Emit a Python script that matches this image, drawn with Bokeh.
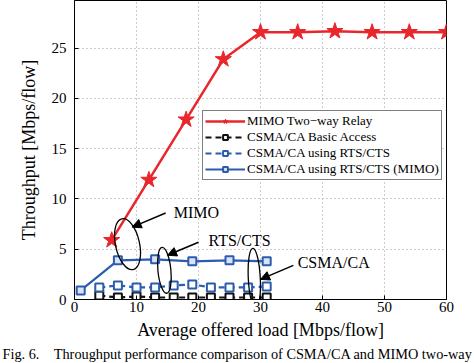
from bokeh.plotting import figure
from bokeh.models import (Range1d, FixedTicker, Legend, LegendItem,
                          Arrow, NormalHead, Title)
from bokeh.embed import file_html
from bokeh.resources import INLINE
from bokeh.core.properties import value

# ---- data ----
mimo_x = [6, 12, 18, 24, 30, 36, 42, 48, 54, 60]
mimo_y = [5.9, 11.9, 17.9, 23.9, 26.6, 26.6, 26.7, 26.6, 26.6, 26.6]

rts_mimo_x = [1, 7, 13, 19, 25, 31]
rts_mimo_y = [0.9, 3.9, 4.0, 3.8, 3.9, 3.8]

rts_x = [4, 7, 10, 13, 16, 19, 22, 25, 28, 31]
rts_y = [1.2, 1.4, 1.2, 1.2, 1.4, 1.5, 1.2, 1.2, 1.2, 1.3]

basic_x = [4, 7, 10, 13, 16, 19, 22, 25, 28, 31]
basic_y = [0.4, 0.2, 0.3, 0.2, 0.2, 0.2, 0.2, 0.2, 0.2, 0.2]

x_ticks = [0, 10, 20, 30, 40, 50, 60]
y_ticks = [0, 5, 10, 15, 20, 25, 30]

legend_labels = ["MIMO Two\u2212way Relay", "CSMA/CA Basic Access",
                 "CSMA/CA using RTS/CTS", "CSMA/CA using RTS/CTS (MIMO)"]

# annotation texts and anchors (data units)
ann_texts = ["MIMO", "RTS/CTS", "CSMA/CA"]
ann_text_x = [16.0, 21.6, 36.0]
ann_text_y = [8.7, 5.9, 3.7]
arrow_from = [(14.7, 8.6), (20.0, 5.7), (35.3, 3.4)]
arrow_to = [(9.3, 7.2), (15.0, 4.4), (30.0, 2.0)]
ell_x = [8.55, 14.5, 29.0]
ell_y = [5.5, 2.9, 2.1]
ell_w = [24, 13, 12]
ell_h = [52, 46, 60]
ell_a = [0.22, 0.1, 0.05]

caption = ("Fig. 6.\u00a0\u00a0\u00a0\u00a0Throughput performance comparison of "
           "CSMA/CA and MIMO two-way")

RED = "#e8262c"
BLUE = "#2b5cae"
BLACK = "#111111"
FONT = "Liberation Serif"

p = figure(width=474, height=363, output_backend="svg", toolbar_location=None,
           x_range=Range1d(0, 60), y_range=Range1d(0, 29.75),
           min_border_left=74, min_border_right=28, min_border_top=0,
           min_border_bottom=64)
p.outline_line_color = "black"
p.outline_line_width = 1
p.background_fill_color = "white"
p.border_fill_color = "white"

for ax in (p.xaxis[0], p.yaxis[0]):
    ax.major_tick_in = 4
    ax.major_tick_out = 0
    ax.minor_tick_line_color = None
    ax.axis_line_color = "black"
    ax.major_label_text_font = FONT
    ax.major_label_text_font_size = "15px"
    ax.major_label_text_color = "black"
    ax.axis_label_text_font = FONT
    ax.axis_label_text_font_style = "normal"
    ax.axis_label_text_font_size = "18px"
    ax.axis_label_text_color = "black"

p.xaxis[0].ticker = FixedTicker(ticks=x_ticks)
p.yaxis[0].ticker = FixedTicker(ticks=y_ticks)
p.xaxis[0].axis_label = "Average offered load [Mbps/flow]"
p.yaxis[0].axis_label = "Throughput [Mbps/flow]"
p.xaxis[0].major_label_standoff = 2
p.xaxis[0].axis_label_standoff = 5
p.yaxis[0].major_label_standoff = 8
p.yaxis[0].axis_label_standoff = 10

p.xgrid.ticker = FixedTicker(ticks=x_ticks)
p.ygrid.ticker = FixedTicker(ticks=y_ticks)
for g in (p.xgrid[0], p.ygrid[0]):
    g.grid_line_color = "#9a9a9a"
    g.grid_line_dash = "1 3"
    g.grid_line_width = 1

# series
r1l = p.line(mimo_x, mimo_y, line_color=RED, line_width=2.5)
r1m = p.scatter(mimo_x, mimo_y, marker="star", size=17, fill_color=RED, line_color=RED)

r2l = p.line(basic_x, basic_y, line_color=BLACK, line_width=2.2, line_dash="6 4")
r2m = p.scatter(basic_x, basic_y, marker="square", size=8, fill_color="white",
                line_color=BLACK, line_width=2)

r3l = p.line(rts_x, rts_y, line_color=BLUE, line_width=2.2, line_dash="6 4")
r3m = p.scatter(rts_x, rts_y, marker="square", size=8, fill_color="white",
                line_color=BLUE, line_width=2)

r4l = p.line(rts_mimo_x, rts_mimo_y, line_color=BLUE, line_width=2.2)
r4m = p.scatter(rts_mimo_x, rts_mimo_y, marker="square", size=8, fill_color="#d9e3f5",
                line_color=BLUE, line_width=2)

# annotations
p.ellipse(x=ell_x, y=ell_y, width=ell_w, height=ell_h, angle=ell_a,
          width_units="screen", height_units="screen",
          fill_color=None, line_color="black", line_width=1.3)
for (x0, y0), (x1, y1) in zip(arrow_from, arrow_to):
    p.add_layout(Arrow(x_start=x0, y_start=y0, x_end=x1, y_end=y1,
                       line_color="black", line_width=1.5,
                       end=NormalHead(size=9, fill_color="black", line_color="black")))
p.text(x=ann_text_x, y=ann_text_y, text=ann_texts, text_font=value(FONT),
       text_font_size="16px", text_baseline="middle", text_align="left",
       text_color="black")

legend = Legend(items=[
    LegendItem(label=legend_labels[0], renderers=[r1l, r1m]),
    LegendItem(label=legend_labels[1], renderers=[r2l, r2m]),
    LegendItem(label=legend_labels[2], renderers=[r3l, r3m]),
    LegendItem(label=legend_labels[3], renderers=[r4l, r4m]),
], location=(128, 119))
legend.label_text_font = FONT
legend.label_text_font_size = "13px"
legend.label_text_color = "black"
legend.label_text_line_height = 1.0
legend.glyph_width = 40
legend.glyph_height = 12
legend.label_height = 12
legend.label_standoff = 2
legend.spacing = 0
legend.padding = 2
legend.margin = 0
legend.border_line_color = "black"
legend.border_line_width = 1
legend.background_fill_alpha = 1
p.add_layout(legend, "center")

p.add_layout(Title(text=caption, align="left", offset=-72, standoff=2,
                   text_font=FONT, text_font_size="14.3px", text_font_style="normal",
                   text_color="black"), "below")

open("out.html", "w").write(file_html(p, INLINE))
